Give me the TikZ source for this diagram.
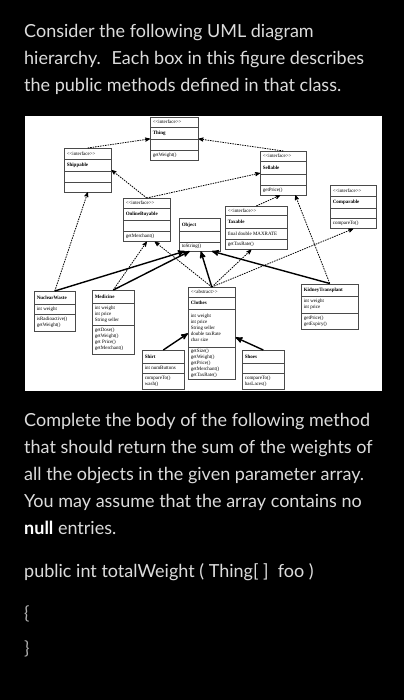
\documentclass[tikz,border=0pt]{standalone}
\usepackage{fontspec}
\setmainfont{Lato}
\newfontfamily\umlfont{Liberation Serif}
\usetikzlibrary{arrows, positioning, shapes.multipart}
\definecolor{prompt}{HTML}{DCDCDC}
\definecolor{umlline}{HTML}{4A4A4A}
\newcommand{\crow}[3]{\hspace*{2.5pt}\parbox[c][#2pt][c]{\dimexpr#1pt-2.5pt\relax}{\raggedright#3}}
\tikzset{
    uml/.style={rectangle split, rectangle split parts=#1, draw=umlline, line width=0.55pt,
        fill=white, inner sep=0pt, anchor=north west,
        font=\umlfont\fontsize{5}{6}\selectfont},
    realizes/.style={->, >=stealth', dash pattern=on 1.5pt off 1pt, line width=0.8pt},
    extends/.style={->, >=stealth', line width=1.4pt},
    prompt/.style={anchor=base west, inner sep=0pt, text=prompt,
        font=\fontsize{18}{27}\selectfont}}
\begin{document}
\begin{tikzpicture}[x=1pt,y=-1pt]
\fill[black] (0,0) rectangle (404,700);
\useasboundingbox (0,0) rectangle (404,700);
\fill[white] (25,116) rectangle (382,391);
% question text
\node[prompt] (q1) at (24,37.5) {Consider the following UML diagram};
\node[prompt] (q2) at (24,65)   {hierarchy.~ Each box in this figure describes};
\node[prompt] (q3) at (24,92)   {the public methods defined in that class.};
\node[prompt] (t1) at (24,426)  {Complete the body of the following method};
\node[prompt] (t2) at (24,453)  {that should return the sum of the weights of};
\node[prompt] (t3) at (24,480.5){all the objects in the given parameter array.};
\node[prompt] (t4) at (24,507.5){You may assume that the array contains no};
\node[prompt] (t5) at (24,534.5){\textcolor{white}{\textbf{null}} entries.};
\node[prompt] (sig) at (24,577){public int totalWeight ( Thing[ ]~ foo )};
\node[prompt, text=prompt!80!black] (open)  at (24,619) {\{};
\node[prompt, text=prompt!80!black] (close) at (24,654) {\}};
% interfaces
\node[uml=4] (thing) at (150,117) {\crow{48}{9}{<<interface>>}\nodepart{two}\crow{48}{12}{\textbf{Thing}}\nodepart{three}\crow{48}{10}{}\nodepart{four}\crow{48}{10}{getWeight()}};
\node[uml=4] (shippable) at (64,148) {\crow{47}{10.5}{<<interface>>}\nodepart{two}\crow{47}{11.5}{\textbf{Shippable}}\nodepart{three}\crow{47}{10}{}\nodepart{four}\crow{47}{9.5}{}};
\node[uml=4] (sellable) at (260,151) {\crow{46}{9}{<<interface>>}\nodepart{two}\crow{46}{12.5}{\textbf{Sellable}}\nodepart{three}\crow{46}{10.5}{}\nodepart{four}\crow{46}{9.5}{getPrice()}};
\node[uml=4] (comparable) at (330,185) {\crow{46}{10}{<<interface>>}\nodepart{two}\crow{46}{11.5}{\textbf{Comparable}}\nodepart{three}\crow{46}{10}{}\nodepart{four}\crow{46}{9.5}{compareTo()}};
\node[uml=4] (onlinebuyable) at (123,198) {\crow{47}{9}{<<interface>>}\nodepart{two}\crow{47}{12}{\textbf{OnlineBuyable}}\nodepart{three}\crow{47}{10.5}{}\nodepart{four}\crow{47}{9.5}{getMerchant()}};
\node[uml=4] (taxable) at (225,206) {\crow{62}{8.5}{<<interface>>}\nodepart{two}\crow{62}{12}{\textbf{Taxable}}\nodepart{three}\crow{62}{10.5}{final double MAXRATE}\nodepart{four}\crow{62}{10}{getTaxRate()}};
% classes
\node[uml=3] (object) at (179,218.5) {\crow{41}{11.5}{\textbf{Object}}\nodepart{two}\crow{41}{10.5}{}\nodepart{three}\crow{41}{8.5}{toString()}};
\node[uml=3] (nuclearwaste) at (34,291) {\crow{41}{12}{\textbf{NuclearWaste}}\nodepart{two}\crow{41}{10}{int weight}\nodepart{three}\crow{41}{16}{isRadioactive()\\getWeight()}};
\node[uml=3] (medicine) at (92,290) {\crow{42}{12.5}{\textbf{Medicine}}\nodepart{two}\crow{42}{21.5}{int weight\\int price\\String seller}\nodepart{three}\crow{42}{28}{getDose()\\getWeight()\\get Price()\\getMerchant()}};
\node[uml=4] (clothes) at (188,287) {\crow{47}{9}{<<abstract>>}\nodepart{two}\crow{47}{12}{\textbf{Clothes}}\nodepart{three}\crow{47}{37}{int weight\\int price\\String seller\\double taxRate\\char size}\nodepart{four}\crow{47}{32}{getSize()\\getWeight()\\getPrice()\\getMerchant()\\getTaxRate()}};
\node[uml=3] (shirt) at (142,350) {\crow{42}{12}{\textbf{Shirt}}\nodepart{two}\crow{42}{10}{int numButtons}\nodepart{three}\crow{42}{15.5}{compareTo()\\wash()}};
\node[uml=3] (shoes) at (242,350) {\crow{42}{12}{\textbf{Shoes}}\nodepart{two}\crow{42}{10}{}\nodepart{three}\crow{42}{15.5}{compareTo()\\hasLaces()}};
\node[uml=3] (kidney) at (301,283.5) {\crow{57}{12}{\textbf{KidneyTransplant}}\nodepart{two}\crow{57}{16}{int weight\\int price}\nodepart{three}\crow{57}{15.5}{getPrice()\\getExpiry()}};
% implements
\draw[realizes] (shippable.north) -- (thing.west);
\draw[realizes] (sellable.north) -- (thing.east);
\draw[realizes] (onlinebuyable.north) -- (shippable.east);
\draw[realizes] (onlinebuyable.north) -- (sellable.west);
\draw[realizes] (nuclearwaste.north) -- (shippable.south);
\draw[realizes] (medicine.north) -- (onlinebuyable.south);
\draw[realizes] (clothes.north) -- ([xshift=8pt]onlinebuyable.south);
\draw[realizes] (clothes.north) -- ([xshift=-5pt]taxable.south);
\draw[realizes] (clothes.north) -- (comparable.south);
\draw[realizes] (taxable.north) -- ([xshift=-3pt]sellable.south);
\draw[realizes] (kidney.north) -- ([xshift=12pt]sellable.south);
% extends
\draw[extends] (nuclearwaste.north) -- ([xshift=-15pt]object.south);
\draw[extends] (medicine.north) -- ([xshift=-10pt]object.south);
\draw[extends] (clothes.north) -- ([xshift=1pt]object.south);
\draw[extends] (kidney.north) -- ([xshift=12pt]object.south);
\draw[extends] (shirt.north) -- (clothes.west);
\draw[extends] (shoes.north) -- ([yshift=-4pt]clothes.east);
\end{tikzpicture}
\end{document}
